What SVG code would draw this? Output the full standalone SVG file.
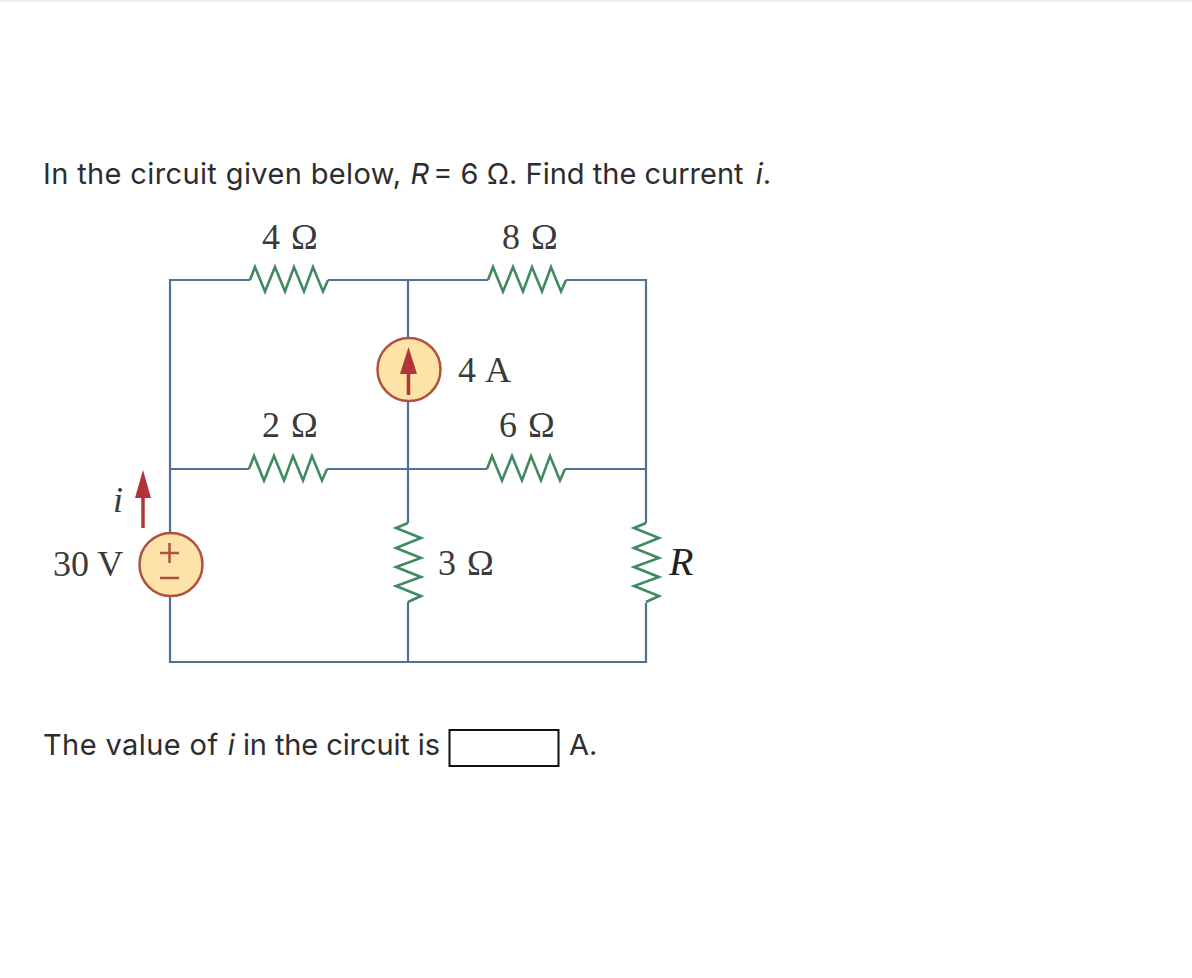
<svg xmlns="http://www.w3.org/2000/svg" width="1192" height="978" viewBox="0 0 1192 978">
<defs>
<path id="rh" d="M0 0 L5 -13 L15 11.500 L25 -13 L35 11.500 L44 -13 L54 11.500 L63 -13 L73 11.500 L78 0"/>
<path id="rv" d="M0 0 L-12 5 L13 15 L-12 25 L13 35 L-12 44 L13 54 L-12 63 L13 73 L0 79"/>
</defs>
<style>
.w{fill:none;stroke:#4f7199;stroke-width:2.200}
.r{fill:none;stroke:#3f8a5e;stroke-width:2.600;stroke-linejoin:miter}
.s{fill:#fde3a7;stroke:#b0503f;stroke-width:2.500}
.a{fill:#b3333a}
.as{fill:none;stroke:#b3333a;stroke-width:3.500}
.t{font-family:"Liberation Serif","Times New Roman",serif;font-size:36px;fill:#3a3a3a;word-spacing:2px}
.q{font-family:"Inter","Noto Sans",sans-serif;font-size:29px;fill:#2d2d2d}
.it{font-style:italic}
</style>
<rect x="0" y="0" width="1192" height="2" fill="#eeeeee"/>
<text class="q" x="43" y="184"><tspan letter-spacing="0.37">In the circuit given below,</tspan> <tspan class="it" dx="1">R</tspan><tspan dx="4">= 6 Ω. Find the current</tspan> <tspan class="it" dx="4">i</tspan>.</text>
<g id="connectors">
<path class="w" d="M250 280 H170 V662 H646 V603 M646 523 V280 H566 M328 280 H488 M170 469 H249 M327 469 H487 M565 469 H646 M408 280 V338 M408 401 V523 M408 602 V662"/>
</g>
<g id="r4"><use href="#rh" x="250" y="280" class="r"/><text class="t" x="262" y="249">4 Ω</text></g>
<g id="r8"><use href="#rh" x="488" y="280" class="r"/><text class="t" x="502" y="249">8 Ω</text></g>
<g id="r2"><use href="#rh" x="249" y="469" class="r"/><text class="t" x="262" y="437">2 Ω</text></g>
<g id="r6"><use href="#rh" x="487" y="469" class="r"/><text class="t" x="499" y="437">6 Ω</text></g>
<g id="r3"><use href="#rv" x="408" y="523" class="r"/><text class="t" x="438" y="575">3 Ω</text></g>
<g id="rR"><use href="#rv" x="646" y="523" class="r"/><text class="t it" x="669" y="575" style="font-size:40px;fill:#222">R</text></g>
<g id="isrc">
<circle class="s" cx="409" cy="369.500" r="31.500"/>
<path class="as" d="M408.500 395 V365"/>
<path class="a" d="M408.500 347 L417 374 H400 Z"/>
<text class="t" x="458" y="382">4 A</text>
</g>
<g id="vsrc">
<circle class="s" cx="171" cy="564.500" r="31.500"/>
<path d="M160 553 H179 M169.500 543 V563 M160 578 H179" fill="none" stroke="#b0503f" stroke-width="2.500"/>
<text class="t" x="53" y="576" style="word-spacing:0">30 V</text>
</g>
<g id="icur">
<path class="as" d="M143 528 V495"/>
<path class="a" d="M143 470 L151 498 H135 Z"/>
<text class="t it" x="113" y="512">i</text>
</g>
<text class="q" x="43" y="755"><tspan letter-spacing="0.4">The value of</tspan> <tspan class="it" dx="1">i</tspan> <tspan letter-spacing="-0.1">in the circuit is</tspan></text>
<rect x="449.500" y="730" width="109" height="36" fill="#fff" stroke="#111" stroke-width="2"/>
<text class="q" x="569" y="755">A.</text>
</svg>
